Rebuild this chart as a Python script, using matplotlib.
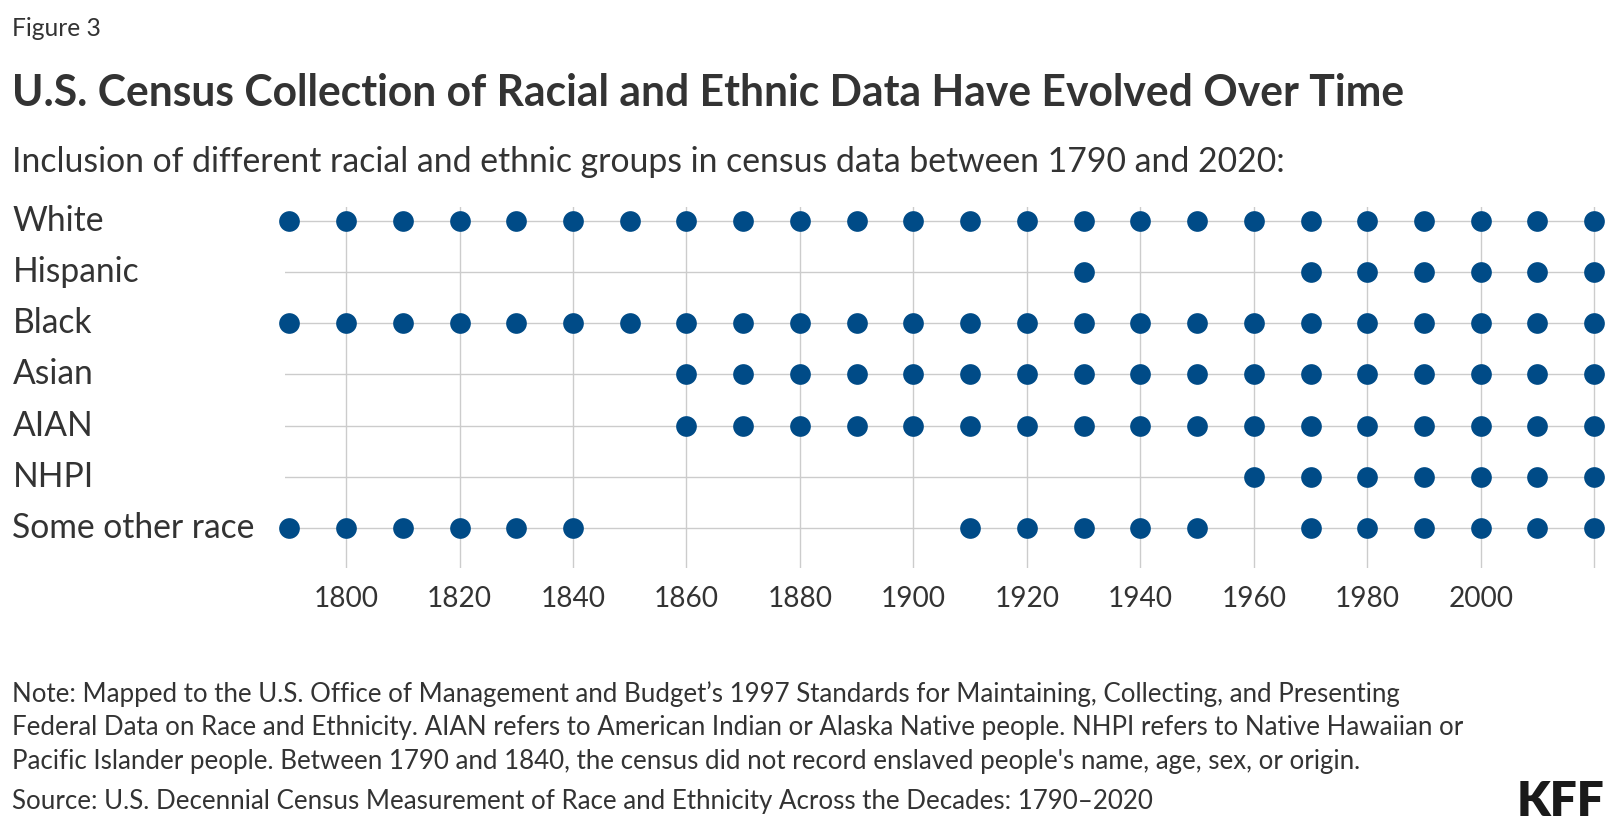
import matplotlib
matplotlib.use("Agg")
import matplotlib.pyplot as plt

# Chart data
groups = ["White", "Hispanic", "Black", "Asian", "AIAN", "NHPI", "Some other race"]
decades = list(range(1790, 2030, 10))
included = {
    "White": decades,
    "Hispanic": [1930, 1970, 1980, 1990, 2000, 2010, 2020],
    "Black": decades,
    "Asian": list(range(1860, 2030, 10)),
    "AIAN": list(range(1860, 2030, 10)),
    "NHPI": [1960, 1970, 1980, 1990, 2000, 2010, 2020],
    "Some other race": [1790, 1800, 1810, 1820, 1830, 1840,
                        1910, 1920, 1930, 1940, 1950,
                        1970, 1980, 1990, 2000, 2010, 2020],
}
grid_years = list(range(1800, 2021, 20))
tick_labels = [str(y) if y <= 2000 else "" for y in grid_years]

title = "U.S. Census Collection of Racial and Ethnic Data Have Evolved Over Time"
subtitle = "Inclusion of different racial and ethnic groups in census data between 1790 and 2020:"
note_lines = [
    "Note: Mapped to the U.S. Office of Management and Budget\u2019s 1997 Standards for Maintaining, Collecting, and Presenting",
    "Federal Data on Race and Ethnicity. AIAN refers to American Indian or Alaska Native people. NHPI refers to Native Hawaiian or",
    "Pacific Islander people. Between 1790 and 1840, the census did not record enslaved people's name, age, sex, or origin.",
]
source = "Source: U.S. Decennial Census Measurement of Race and Ethnicity Across the Decades: 1790\u20132020"

BLUE = "#004b87"
TEXT = "#333333"
GRID = "#cccccc"
W, H = 1620, 832
S = 1620 / 1568  # layout measured on a 1568 px wide view of the reference

plt.rcParams["font.family"] = ["Lato", "DejaVu Sans"]

fig = plt.figure(figsize=(W / 100, H / 100), dpi=100)
ax = fig.add_axes([276 * S / W, 1 - 550 * S / H, 1272 * S / W, 350 * S / H])

for i, g in enumerate(groups):
    yrs = included[g]
    ax.scatter(yrs, [i] * len(yrs), s=222, color=BLUE, linewidths=0, zorder=3, clip_on=False)

ax.set_xlim(1789.27, 2020.9)
ax.set_ylim(6.79, -0.283)
ax.set_xticks(grid_years)
ax.set_xticklabels(tick_labels, fontsize=18.5, color=TEXT)
ax.set_yticks(range(len(groups)))
ax.set_yticklabels([])
ax.tick_params(length=0, pad=13)
ax.grid(color=GRID, linewidth=1)
ax.set_axisbelow(True)
for s in ax.spines.values():
    s.set_visible(False)

# row labels at the left edge of the figure
label_tf = matplotlib.transforms.blended_transform_factory(fig.transFigure, ax.transData)
row_texts = []
for i, g in enumerate(groups):
    row_texts.append(ax.text(12 * S / W, i, g, transform=label_tf, ha="left", va="center",
                             fontsize=21, color=TEXT))


def ftext(x, y, s, **kw):
    return fig.text(x * S / W, 1 - y * S / H, s, ha="left", va="baseline", color=TEXT, **kw)


t_fig = ftext(12, 35, "Figure 3", fontsize=15)
t_title = ftext(12, 103, title, fontsize=26, fontweight="bold")
t_sub = ftext(12, 166, subtitle, fontsize=22)
t_notes = [ftext(12, 679 + 32.5 * k, line, fontsize=16) for k, line in enumerate(note_lines)]
t_src = ftext(12, 783, source, fontsize=16)
t_kff = fig.text(1553 * S / W, 1 - 790 * S / H, "KFF", ha="right", va="baseline",
                 fontsize=28, fontweight="heavy", color="#1a1a1a")

# scale the font sizes so the text widths match the reference
fig.canvas.draw()
renderer = fig.canvas.get_renderer()


def fit(t, width):
    w = t.get_window_extent(renderer).width
    t.set_fontsize(t.get_fontsize() * width * S / w)


fit(t_fig, 86)
fit(t_title, 1348)
fit(t_sub, 1226)
fit(t_notes[0], 1348)
for t in t_notes[1:] + [t_src]:
    t.set_fontsize(t_notes[0].get_fontsize())
fit(t_kff, 85)
fit(row_texts[-1], 235)
for t in row_texts[:-1]:
    t.set_fontsize(row_texts[-1].get_fontsize())
ticks = ax.get_xticklabels()
fit(ticks[0], 63)
for t in ticks[1:]:
    t.set_fontsize(ticks[0].get_fontsize())

fig.savefig("out.png", dpi=100, facecolor="white")
